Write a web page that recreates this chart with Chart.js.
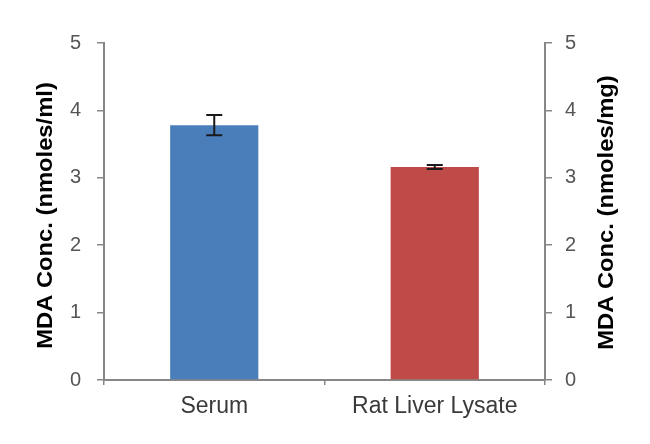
<!DOCTYPE html>
<html lang="en">
<head>
    <meta charset="UTF-8">
    <title>MDA Conc.</title>
    <style>
        html, body { margin: 0; padding: 0; background: #fff; }
        #wrap { width: 650px; height: 444px; }
    </style>
</head>
<body>
<script src="https://cdn.jsdelivr.net/npm/chart.js@4.4.0/dist/chart.umd.min.js"></script>
<div id="wrap"><canvas id="bar-chart"></canvas></div>

<script>
    // data
    const categories = ['Serum', 'Rat Liver Lysate'];
    const mdaValues = [3.78, 3.16];
    const mdaErrors = [0.15, 0.03];
    const barColors = ['#4a7ebb', '#be4b48'];
    const yTicks = [0, 1, 2, 3, 4, 5];
    const leftTitle = 'MDA Conc. (nmoles/ml)';
    const rightTitle = 'MDA Conc. (nmoles/mg)';

    const axisGray = '#878787';
    const tickFont = { family: 'Liberation Sans', size: 20 };

    // both axis titles read bottom to top and look a bit stretched, so draw them by hand
    function drawTitle(ctx, text, x, y) {
        ctx.save();
        ctx.translate(x, y);
        ctx.rotate(-Math.PI / 2);
        ctx.scale(1.08, 1);
        ctx.font = 'bold 22px "Liberation Sans"';
        ctx.fillStyle = '#000';
        ctx.textAlign = 'center';
        ctx.textBaseline = 'middle';
        ctx.fillText(text, 0, 0);
        ctx.restore();
    }

    const extras = {
        id: 'extras',
        afterDatasetsDraw(chart) {
            const ctx = chart.ctx;
            const meta = chart.getDatasetMeta(0);
            const y = chart.scales.y;
            ctx.save();
            ctx.strokeStyle = '#1a1a1a';
            ctx.lineWidth = 2;
            meta.data.forEach((bar, i) => {
                const hi = y.getPixelForValue(mdaValues[i] + mdaErrors[i]);
                const lo = y.getPixelForValue(mdaValues[i] - mdaErrors[i]);
                ctx.beginPath();
                ctx.moveTo(bar.x, hi); ctx.lineTo(bar.x, lo);
                ctx.moveTo(bar.x - 8, hi); ctx.lineTo(bar.x + 8, hi);
                ctx.moveTo(bar.x - 8, lo); ctx.lineTo(bar.x + 8, lo);
                ctx.stroke();
            });
            ctx.restore();
        },
        afterDraw(chart) {
            const ctx = chart.ctx;
            const area = chart.chartArea;
            const mid = (area.top + area.bottom) / 2;
            drawTitle(ctx, leftTitle, 46, mid + 4);
            drawTitle(ctx, rightTitle, 607, mid + 1);
        }
    };

    new Chart(document.getElementById('bar-chart'), {
        type: 'bar',
        data: {
            labels: categories,
            datasets: [{
                data: mdaValues,
                backgroundColor: barColors,
                borderWidth: 0,
                barPercentage: 0.4,
                categoryPercentage: 1.0
            }]
        },
        options: {
            responsive: true,
            maintainAspectRatio: false,
            animation: false,
            layout: { padding: { top: 43, left: 0, right: 0, bottom: 0 } },
            plugins: {
                legend: { display: false },
                tooltip: { enabled: false }
            },
            scales: {
                x: {
                    afterFit: s => { s.height = 64; },
                    grid: { drawOnChartArea: false, tickLength: 5, color: axisGray, lineWidth: 1.5 },
                    border: { color: axisGray, width: 2 },
                    ticks: { font: { family: 'Liberation Sans', size: 23 }, color: '#3a3a3a', padding: 8 }
                },
                y: {
                    position: 'left',
                    min: 0,
                    max: 5,
                    afterFit: s => { s.width = 104; },
                    afterBuildTicks: s => { s.ticks = yTicks.map(v => ({ value: v })); },
                    grid: { drawOnChartArea: false, tickLength: 7, color: axisGray, lineWidth: 1.5 },
                    border: { color: axisGray, width: 2 },
                    ticks: { font: tickFont, color: '#555', padding: 16 }
                },
                y1: {
                    position: 'right',
                    min: 0,
                    max: 5,
                    afterFit: s => { s.width = 105; },
                    afterBuildTicks: s => { s.ticks = yTicks.map(v => ({ value: v })); },
                    grid: { drawOnChartArea: false, tickLength: 7, color: axisGray, lineWidth: 1.5 },
                    border: { color: axisGray, width: 2 },
                    ticks: { font: tickFont, color: '#555', padding: 13 }
                }
            }
        },
        plugins: [extras]
    });
</script>
</body>
</html>
